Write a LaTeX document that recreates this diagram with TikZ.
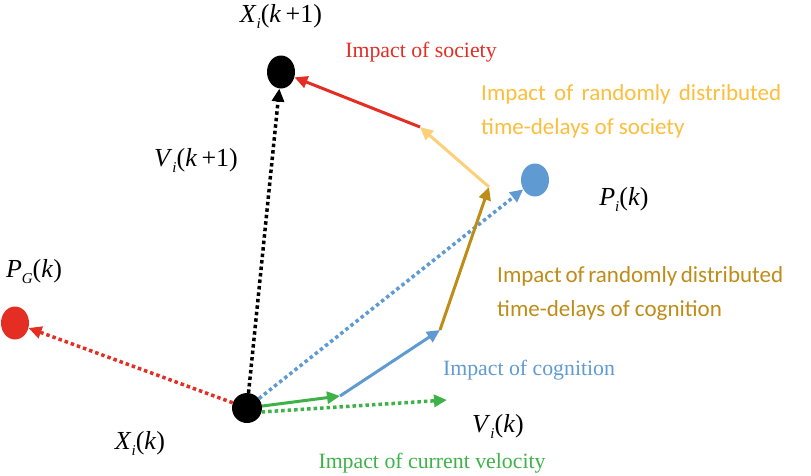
\documentclass[tikz,border=0pt]{standalone}
\usepackage{fontspec}
\setmainfont{Liberation Serif}
\newfontfamily\calibri{Carlito}
\usetikzlibrary{positioning, shapes.geometric, arrows.meta}

\definecolor{socred}{RGB}{228,45,35}
\definecolor{piblue}{RGB}{95,155,210}
\definecolor{velgreen}{RGB}{62,178,72}
\definecolor{delaygold}{RGB}{190,140,25}
\definecolor{delayorange}{RGB}{252,190,60}
\definecolor{delaylight}{RGB}{252,208,120}

\newcommand{\mvar}[2]{\textit{#1}\raisebox{-6pt}{\fontsize{15}{15}\selectfont\textit{#2}}}

\begin{document}
\begin{tikzpicture}[
  x=1pt, y=-1pt,
  >={Triangle[length=13pt, width=12pt]},
  every node/.style={inner sep=0pt},
  agent/.style={circle, fill=black, minimum size=30pt},
  point/.style={ellipse, minimum width=28pt, minimum height=33pt},
  dots/.style={line width=3.5pt, dash pattern=on 3.5pt off 3pt},
  move/.style={line width=3pt},
  mathlbl/.style={font=\fontsize{26}{30}\selectfont},
  serifnote/.style={font=\fontsize{21.8}{26}\selectfont},
  sansnote/.style={font=\calibri\fontsize{23}{34}\selectfont, align=justify, anchor=west}
]
\useasboundingbox (0,0) rectangle (811,475);
% Particles and best positions
\node[agent] (xk) at (247,408) {};
\node[point, fill=black] (xk1) at (281,72) {};
\node[point, fill=socred] (pg) at (15,323) {};
\node[point, fill=piblue] (pi) at (535,180) {};
% Corners of the velocity update
\coordinate (c1) at (340,396);
\coordinate (c2) at (440,330);
\coordinate (c3) at (489,187);
\coordinate (c4) at (420,127);
\coordinate (vk) at (447,400);
% Dotted directions
\draw[dots, ->, black] (xk) -- (xk1);
\draw[dots, ->, socred] (xk) -- (pg);
\draw[dots, ->, piblue] (xk) -- (pi);
\draw[dots, ->, velgreen] (xk.-15) -- (vk);
% Solid chain of impacts
\draw[move, ->, velgreen] (xk) -- (c1);
\draw[move, ->, piblue] (c1) -- (c2);
\draw[move, ->, delaygold] (c2) -- (c3);
\draw[move, ->, delaylight] (c3) -- (c4);
\draw[move, ->, socred] (c4) -- (xk1);
% Labels
\node[mathlbl] (lxk1) at (281,16) {\mvar{X}{i}(\textit{k}\,+1)};
\node[serifnote, socred] (lsoc) at (421,52) {Impact of society};
\node[sansnote, delayorange, text width=300pt] (ldsoc) at (481,111) {Impact of randomly distributed time-delays of society};
\node[mathlbl] (lvk1) at (196,160) {\mvar{V}{i}(\textit{k}\,+1)};
\node[mathlbl] (lpi) at (624,199) {\mvar{P}{i}(\textit{k})};
\node[mathlbl] (lpg) at (34,272) {\mvar{P}{G}(\textit{k})};
\node[sansnote, delaygold, text width=286pt] (ldcog) at (497,293) {Impact of randomly distributed time-delays of cognition};
\node[serifnote, piblue] (lcog) at (529,370) {Impact of cognition};
\node[mathlbl] (lvk) at (498,426) {\mvar{V}{i}(\textit{k})};
\node[mathlbl] (lxk) at (140,443) {\mvar{X}{i}(\textit{k})};
\node[serifnote, velgreen] (lvel) at (432,463) {Impact of current velocity};
\end{tikzpicture}
\end{document}
